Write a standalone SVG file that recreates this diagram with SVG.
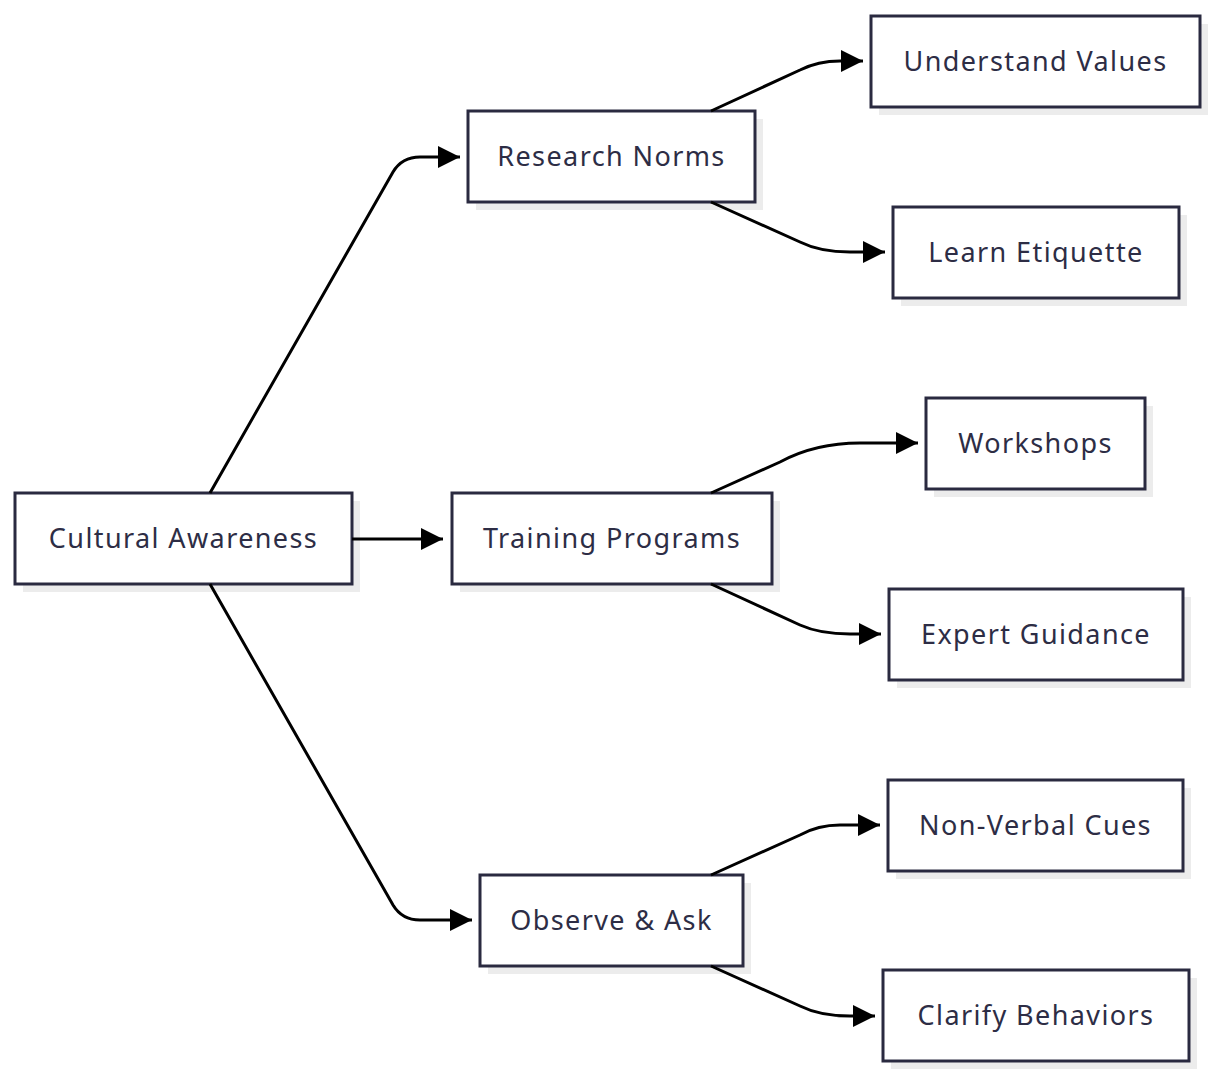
<svg xmlns="http://www.w3.org/2000/svg" width="1218" height="1080" viewBox="0 0 1218 1080">
<defs>
<style>
.shadow{fill:#ececec;}
.box{fill:#ffffff;stroke:#2a2a40;stroke-width:3;}
.lbl{font-family:"Noto Sans","Open Sans",sans-serif;font-size:27px;fill:#2d2d45;text-anchor:middle;dominant-baseline:central;letter-spacing:1.4px;}
.edge{fill:none;stroke:#000;stroke-width:3;}
</style>
<marker id="arr" markerUnits="userSpaceOnUse" markerWidth="22" markerHeight="22" refX="20" refY="10" orient="auto" viewBox="0 0 20 20">
<path d="M0,0 L20,10 L0,20 z" fill="#000"/>
</marker>
</defs>
<rect width="1218" height="1080" fill="#fff"/>
<g id="cultural-awareness"><rect class="shadow" x="23" y="501" width="337" height="91"/><rect class="box" x="15" y="493" width="337" height="91"/><text class="lbl" x="183.5" y="537">Cultural Awareness</text></g>
<g id="research-norms"><rect class="shadow" x="476" y="119" width="287" height="91"/><rect class="box" x="468" y="111" width="287" height="91"/><text class="lbl" x="611.5" y="155">Research Norms</text></g>
<g id="training-programs"><rect class="shadow" x="460" y="501" width="320" height="91"/><rect class="box" x="452" y="493" width="320" height="91"/><text class="lbl" x="612" y="537">Training Programs</text></g>
<g id="observe-ask"><rect class="shadow" x="488" y="883" width="263" height="91"/><rect class="box" x="480" y="875" width="263" height="91"/><text class="lbl" x="611.5" y="919">Observe &amp; Ask</text></g>
<g id="understand-values"><rect class="shadow" x="879" y="24" width="329" height="91"/><rect class="box" x="871" y="16" width="329" height="91"/><text class="lbl" x="1035.5" y="60">Understand Values</text></g>
<g id="learn-etiquette"><rect class="shadow" x="901" y="215" width="286" height="91"/><rect class="box" x="893" y="207" width="286" height="91"/><text class="lbl" x="1036" y="251">Learn Etiquette</text></g>
<g id="workshops"><rect class="shadow" x="934" y="406" width="219" height="91"/><rect class="box" x="926" y="398" width="219" height="91"/><text class="lbl" x="1035.5" y="442">Workshops</text></g>
<g id="expert-guidance"><rect class="shadow" x="897" y="597" width="294" height="91"/><rect class="box" x="889" y="589" width="294" height="91"/><text class="lbl" x="1036" y="633">Expert Guidance</text></g>
<g id="non-verbal-cues"><rect class="shadow" x="896" y="788" width="295" height="91"/><rect class="box" x="888" y="780" width="295" height="91"/><text class="lbl" x="1035.5" y="824">Non-Verbal Cues</text></g>
<g id="clarify-behaviors"><rect class="shadow" x="891" y="978" width="306" height="91"/><rect class="box" x="883" y="970" width="306" height="91"/><text class="lbl" x="1036" y="1014">Clarify Behaviors</text></g>
<g id="edges">
<path class="edge" marker-end="url(#arr)" d="M210,493 L393,172 Q402,157 420,157 L460,157"/>
<path class="edge" marker-end="url(#arr)" d="M352,539 L443,539"/>
<path class="edge" marker-end="url(#arr)" d="M210,584 L393,905 Q402,920 420,920 L472,920"/>
<path class="edge" marker-end="url(#arr)" d="M711,111 L800,70 Q818,61 840,61 L863,61"/>
<path class="edge" marker-end="url(#arr)" d="M711,202 L800,242 Q820,252 850,252 L885,252"/>
<path class="edge" marker-end="url(#arr)" d="M711,493 L780,462 Q815,443 860,443 L918,443"/>
<path class="edge" marker-end="url(#arr)" d="M711,584 L800,625 Q820,634 850,634 L881,634"/>
<path class="edge" marker-end="url(#arr)" d="M711,875 L800,835 Q818,825 840,825 L880,825"/>
<path class="edge" marker-end="url(#arr)" d="M711,966 L800,1006 Q820,1016 850,1016 L875,1016"/>
</g>
</svg>
